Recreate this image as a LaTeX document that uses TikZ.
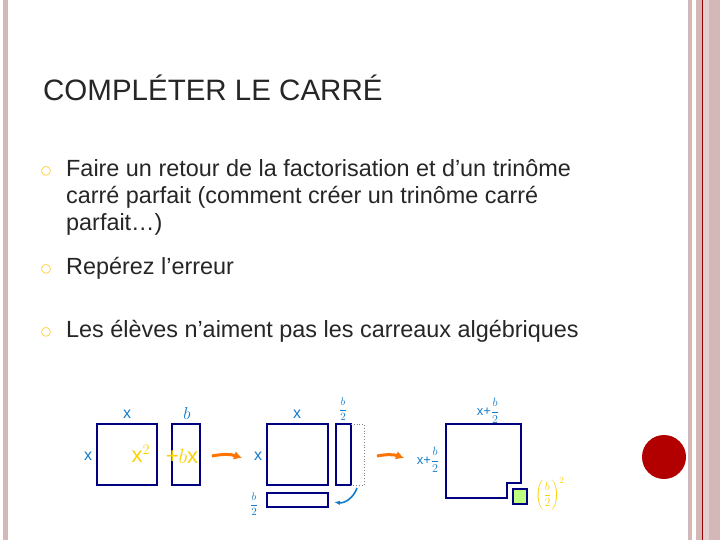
\documentclass[tikz,border=0pt]{standalone}
\usepackage{fontspec}
\setmainfont{Liberation Sans}
\newfontfamily\dejavu{DejaVu Sans}
\usetikzlibrary{arrows.meta}
\begin{document}
\begin{tikzpicture}[x=1pt,y=-1pt,
  box/.style={draw=blue!50!black,line width=1.2pt},
  lbl/.style={text=cyan!60!blue,font=\fontsize{16}{18}\selectfont},
  frac/.style={text=cyan!60!blue,font=\fontsize{11}{12}\selectfont,inner sep=1pt},
  ylw/.style={text=yellow!70!orange,font=\fontsize{22}{24}\selectfont},
  oarr/.style={draw=orange!90!red,line width=3pt,-{Latex[length=8pt,width=9pt]}},
  bul/.style={text=yellow!60!orange,font=\dejavu\fontsize{12}{12}\selectfont},
  txt/.style={anchor=north west,font=\fontsize{23.4}{27}\selectfont,text=black!85,align=left,inner sep=0pt}]
\useasboundingbox (0,0) rectangle (720,540);
\fill[white] (0,0) rectangle (720,540);
% side bars
\fill[red!25!gray!45] (3,0) rectangle (8,540);
\fill[red!25!gray!45] (688,0) rectangle (692,540);
\fill[red!25!gray!45] (696,0) rectangle (720,540);
\fill[red!25!gray!30] (703,0) rectangle (709,540);
\draw[red!60!black,line width=0.8pt] (702,0) -- (702,540);
\fill[red!70!black] (664,457) circle (22);
% title
\node[anchor=base west,font=\fontsize{29.5}{32}\selectfont,text=black!85,inner sep=0pt] (title) at (43,101) {COMPLÉTER LE CARRÉ};
% bullets
\node[bul] (b1) at (46,171) {○};
\node[bul] (b2) at (46,269) {○};
\node[bul] (b3) at (46,332) {○};
\node[txt] (t1) at (66,159) {Faire un retour de la factorisation et d’un trinôme\\carré parfait (comment créer un trinôme carré\\parfait…)};
\node[txt] (t2) at (66,257) {Repérez l’erreur};
\node[txt] (t3) at (66,320) {Les élèves n’aiment pas les carreaux algébriques};
% diagram 1
\draw[box] (97,424) rectangle (157,485);
\draw[box] (172,424) rectangle (200,485);
\node[lbl] (l1) at (127,414) {x};
\node[lbl] (l2) at (187,413) {$b$};
\node[lbl] (l3) at (88,456) {x};
\node[ylw] (x2) at (141,454) {x$^2$};
\node[ylw] (bx) at (182,456) {+$b$x};
\coordinate (a1s) at (212,456); \coordinate (a1e) at (242,458);
\draw[oarr] (a1s) to[bend left=15] (a1e);
% diagram 2
\draw[box] (267,424) rectangle (328,485);
\draw[box] (336,424) rectangle (351,485);
\draw[dotted,gray,thick] (351,424) -- (364,424) -- (364,485) -- (351,485);
\draw[box] (267,493) rectangle (328,507);
\node[lbl] (l4) at (297,414) {x};
\node[frac] (l5) at (343,409) {$\displaystyle\frac{b}{2}$};
\node[lbl] (l6) at (258,456) {x};
\node[frac] (l7) at (254,504) {$\displaystyle\frac{b}{2}$};
\coordinate (cs) at (357,488); \coordinate (ce) at (334,502);
\draw[draw=cyan!60!blue,line width=1.6pt,-{Latex[length=6pt]}] (cs) to[bend left=40] (ce);
\coordinate (a2s) at (377,456); \coordinate (a2e) at (404,458);
\draw[oarr] (a2s) to[bend left=15] (a2e);
% diagram 3
\draw[box] (446,424) -- (521,424) -- (521,483) -- (507,483) -- (507,498) -- (446,498) -- cycle;
\draw[box,fill=green!50!yellow!50] (513,489) rectangle (527,504);
\node[frac,font=\fontsize{13}{14}\selectfont] (l8) at (488,411) {x+$\displaystyle\frac{b}{2}$};
\node[frac,font=\fontsize{13}{14}\selectfont] (l9) at (428,460) {x+$\displaystyle\frac{b}{2}$};
\node[ylw,font=\fontsize{13}{14}\selectfont] (sq) at (550,494) {$\displaystyle\left(\frac{b}{2}\right)^2$};
\end{tikzpicture}
\end{document}
